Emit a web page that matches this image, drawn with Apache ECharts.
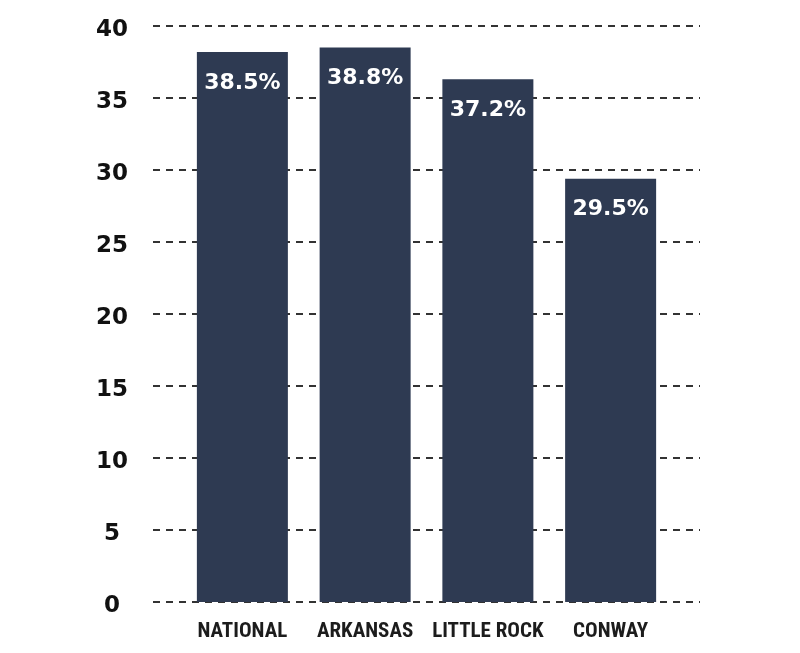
<!DOCTYPE html>
<html>
<head>
<meta charset="utf-8">
<title>Bar chart</title>
<script src="https://cdn.jsdelivr.net/npm/echarts@6/dist/echarts.min.js"></script>
<style>
  html, body { margin: 0; padding: 0; background: #fff; }
  #chart { width: 800px; height: 653px; }
</style>
</head>
<body>
<div id="chart"></div>
<script>
// data
const categories = ['NATIONAL', 'ARKANSAS', 'LITTLE ROCK', 'CONWAY']
const barValues = [38.2, 38.5, 36.3, 29.4]
const barLabels = ['38.5%', '38.8%', '37.2%', '29.5%']
const yMin = 0
const yMax = 40
const yStep = 5

const barColor = '#2e3a52'

const chart = echarts.init(document.getElementById('chart'))

// grid 0 carries the y labels + dashed lines (wider), grid 1 the bars
const option = {
  animation: false,
  grid: [
    { left: 153, right: 100, top: 26, bottom: 51 },
    { left: 181, right: 128, top: 26, bottom: 51 }
  ],
  xAxis: [
    { gridIndex: 0, type: 'value', show: false, min: 0, max: 1 },
    {
      gridIndex: 1,
      type: 'category',
      data: categories,
      axisLine: { show: false },
      axisTick: { show: false },
      axisLabel: {
        interval: 0,
        margin: 19,
        color: '#1c1c1c',
        fontSize: 21,
        fontWeight: 'bold',
        fontFamily: '"Liberation Sans Narrow", "Roboto Condensed", sans-serif'
      }
    }
  ],
  yAxis: [
    {
      gridIndex: 0,
      type: 'value',
      min: yMin,
      max: yMax,
      interval: yStep,
      axisLine: { show: false },
      axisTick: { show: false },
      axisLabel: {
        margin: 41,
        align: 'center',
        formatter: '{v|{value}}',
        rich: {
          v: {
            padding: [8, 0, 0, 0],
            color: '#111',
            fontSize: 23,
            fontWeight: 'bold',
            fontFamily: '"DejaVu Sans", sans-serif'
          }
        }
      },
      splitLine: {
        lineStyle: {
          color: '#333',
          width: 2,
          type: [7, 6]
        }
      }
    },
    {
      gridIndex: 1,
      type: 'value',
      min: yMin,
      max: yMax,
      interval: yStep,
      show: false,
      splitLine: { show: false }
    }
  ],
  series: [
    {
      type: 'bar',
      xAxisIndex: 1,
      yAxisIndex: 1,
      data: barValues,
      barWidth: 91,
      itemStyle: { color: barColor },
      label: {
        show: true,
        position: 'insideTop',
        distance: 20,
        color: '#fff',
        fontSize: 22,
        fontWeight: 'bold',
        fontFamily: '"DejaVu Sans", sans-serif',
        formatter: (p) => barLabels[p.dataIndex]
      }
    }
  ]
}

chart.setOption(option)
</script>
</body>
</html>
